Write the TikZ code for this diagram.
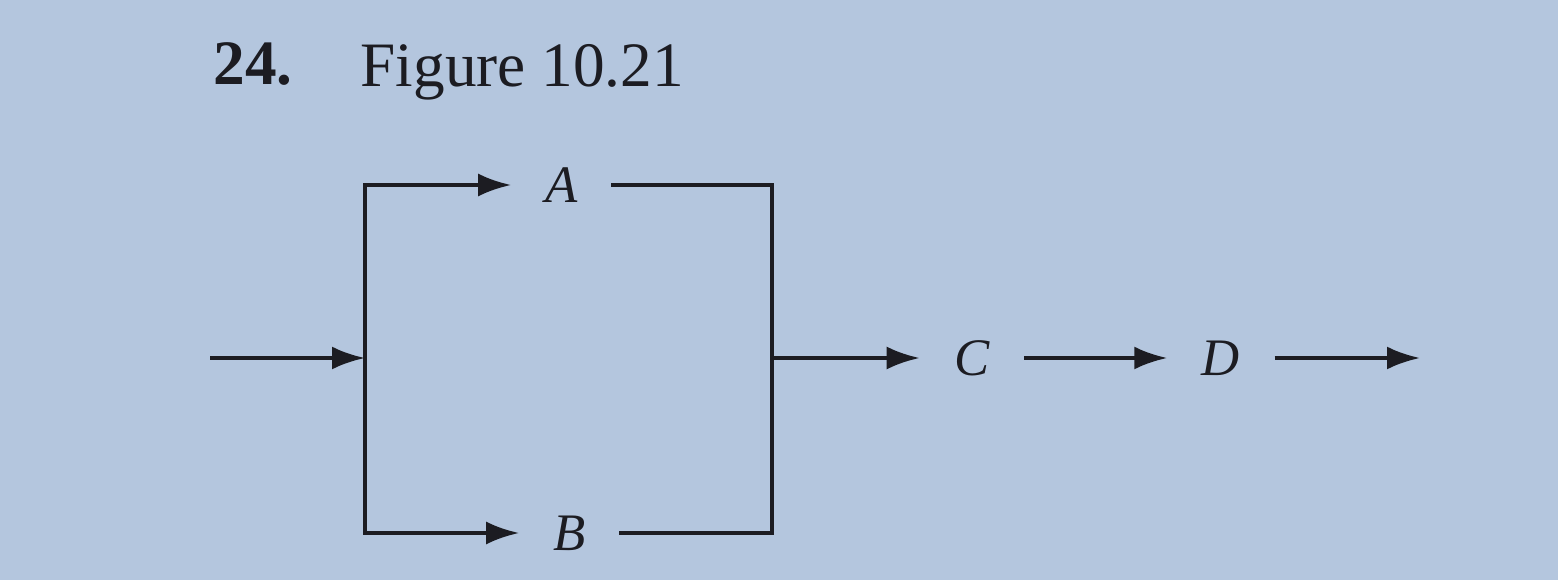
\documentclass[tikz,border=0pt]{standalone}
\usepackage{fontspec}
\setmainfont{Liberation Serif}
\usepackage{xcolor}
\usetikzlibrary{positioning,calc,arrows.meta}
\definecolor{paper}{RGB}{180,198,222}
\definecolor{ink}{RGB}{28,28,34}
\tikzset{
    flow/.style={ink, line width=1.1pt, -{Latex[length=3.3mm, width=2.3mm]}},
    wire/.style={ink, line width=1.1pt, line join=miter, line cap=rect},
    block/.style={ink, inner xsep=0.34cm, inner ysep=0pt, font=\fontsize{15}{18}\selectfont\itshape}
}
\begin{document}
\begin{tikzpicture}
    % Paper
    \fill [paper] (0,0) rectangle (15.58, 5.80);
    \useasboundingbox (0,0) rectangle (15.58, 5.80);

    % Heading
    \node [ink, anchor=base west, inner sep=0pt, font=\fontsize{18}{22}\selectfont\bfseries] (num) at (2.13, 4.95) {24.};
    \node [ink, anchor=base west, inner sep=0pt, font=\fontsize{18}{22}\selectfont] (title) at (3.60, 4.93) {Figure 10.21};

    % Branch points
    \coordinate (in) at (2.10, 2.22);
    \coordinate (split) at (3.65, 2.22);
    \coordinate (tl) at (3.65, 3.95);
    \coordinate (bl) at (3.65, 0.47);
    \coordinate (tr) at (7.72, 3.95);
    \coordinate (br) at (7.72, 0.47);
    \coordinate (join) at (7.72, 2.22);
    \coordinate (out) at (14.20, 2.22);

    % Blocks
    \node [block] (A) at (5.62, 3.95) {A};
    \node [block] (B) at (5.70, 0.47) {B};
    \node [block] (C) at (9.72, 2.22) {C};
    \node [block] (D) at (12.21, 2.22) {D};

    % Parallel part
    \draw [flow] (in) -- (split);
    \draw [wire] (bl) -- (tl);
    \draw [flow] (tl) -- (A.west);
    \draw [flow] (bl) -- (B.west);
    \draw [wire] (A.east) -- (tr) -- (br) -- (B.east);

    % Series part
    \draw [flow] (join) -- (C.west);
    \draw [flow] (C.east) -- (D.west);
    \draw [flow] (D.east) -- (out);
\end{tikzpicture}
\end{document}
